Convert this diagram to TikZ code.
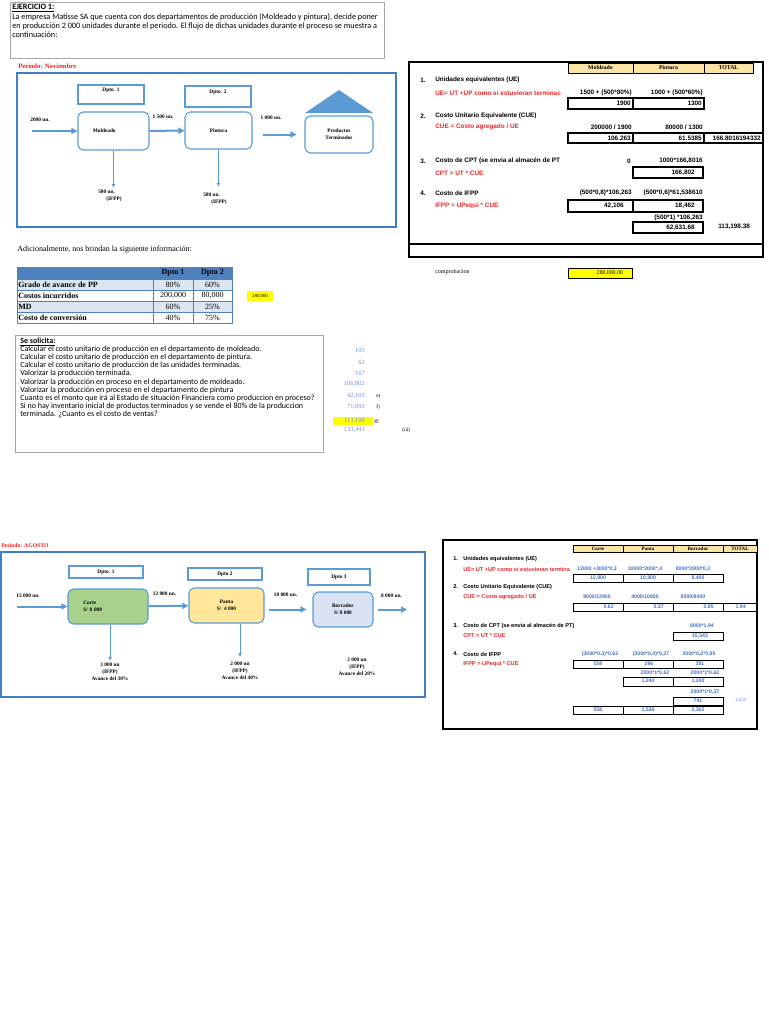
\documentclass[tikz,border=0pt]{standalone}
\usepackage{fontspec}
\usepackage{tikz}
\usetikzlibrary{arrows.meta, positioning, calc}
\setmainfont{Liberation Serif}
\newfontfamily\calibfont{Carlito}
\newfontfamily\arialfont{Liberation Sans}
\newcommand{\setfs}[2]{\fontsize{#1}{#2}\selectfont}
\definecolor{frameblue}{HTML}{3F7EC6}
\definecolor{boxblue}{HTML}{5B9BD5}
\definecolor{roofblue}{HTML}{5B9BD5}
\definecolor{notegray}{HTML}{A6A6A6}
\definecolor{formred}{HTML}{E8262B}
\definecolor{perred}{HTML}{FF1A1A}
\definecolor{hdrtan}{HTML}{FBE3A6}
\definecolor{tblhead}{HTML}{4F81BD}
\definecolor{tblband}{HTML}{DCE6F1}
\definecolor{valblue}{HTML}{4472C4}
\definecolor{softblue}{HTML}{6F8FD8}
\definecolor{hlyellow}{HTML}{FFFF00}
\definecolor{cortegreen}{HTML}{A9D18E}
\definecolor{pantayellow}{HTML}{FFE699}
\definecolor{borradorblue}{HTML}{DAE3F3}

\begin{document}
\begin{tikzpicture}[
    x=0.75pt, y=-0.75pt,
    sz/.style 2 args={minimum width=#1*0.75pt, minimum height=#2*0.75pt},
    note_box/.style={draw=notegray, line width=0.6pt},
    frame_box/.style={draw=frameblue, line width=1.4pt},
    intro_text/.style={inner sep=0pt, anchor=west, font=\calibfont\setfs{6.15}{7}},
    ask_text/.style={inner sep=0pt, anchor=west, font=\calibfont\setfs{6}{6.5}},
    serif_text/.style={inner sep=0pt, anchor=west, font=\setfs{6}{7}},
    dept_node/.style={rectangle, draw=boxblue, line width=0.8pt, inner sep=0pt, font=\bfseries\setfs{4}{5}},
    proc_node/.style={rectangle, rounded corners=4pt, draw=boxblue, line width=0.8pt, inner sep=0pt, align=center, font=\bfseries\setfs{4}{5.2}},
    flow/.style={-{Triangle[length=4.5pt, width=4.5pt]}, draw=boxblue, line width=1.5pt},
    drop/.style={-{Triangle[length=2.5pt, width=2.5pt]}, draw=boxblue, line width=0.6pt},
    flow_label/.style={inner sep=0pt, font=\bfseries\setfs{4}{5.2}, align=center},
    period_label/.style={inner sep=0pt, anchor=west, text=perred, font=\bfseries\setfs{5}{6}},
    calc_text/.style={inner sep=0pt, anchor=west, font=\arialfont\bfseries\setfs{4.8}{5.5}},
    calc_red/.style={calc_text, text=formred},
    calc_num/.style={calc_text, anchor=east},
    calc2_text/.style={inner sep=0pt, anchor=west, font=\arialfont\bfseries\setfs{4.2}{5}},
    calc2_red/.style={calc2_text, text=formred},
    calc2_blue/.style={inner sep=0pt, text=valblue, font=\arialfont\bfseries\setfs{3.9}{4.5}},
    head_cell/.style={draw=black, line width=0.6pt, fill=hdrtan},
    head_text/.style={inner sep=0pt, font=\bfseries\setfs{4.3}{5}},
    value_box/.style={draw=black, line width=1.1pt},
    thin_box/.style={draw=black, line width=0.7pt},
    tbl_grid/.style={draw=tblhead, line width=0.6pt},
    tbl_label/.style={inner sep=0pt, anchor=west, font=\bfseries\setfs{6}{7}},
    tbl_value/.style={inner sep=0pt, font=\setfs{6}{7}},
    answer/.style={inner sep=0pt, anchor=east, text=softblue, font=\setfs{4.8}{5.5}},
    answer_tag/.style={inner sep=0pt, anchor=west, font=\setfs{4}{5}}
]

\fill[white] (0,0) rectangle (768,1024);
\useasboundingbox (0,0) rectangle (768,1024);

% Enunciado
\draw[note_box] (10,2) rectangle (384,58);
\node[intro_text, font=\calibfont\bfseries\setfs{6.15}{7}] (ej_title) at (12,8.5) {\underline{EJERCICIO 1:}};
\node[intro_text] (ej_l1) at (12,17.5) {La empresa Matisse SA que cuenta con dos departamentos de producción (Moldeado y pintura), decide poner};
\node[intro_text] (ej_l2) at (12,26) {en producción 2 000 unidades durante el periodo. El flujo de dichas unidades durante el proceso se muestra a};
\node[intro_text] (ej_l3) at (12,34.5) {continuación:};

% Flujo noviembre
\node[period_label] (per_nov) at (18,66) {Periodo: Noviembre};
\draw[frame_box] (17,73) rectangle (396,227);
\node[dept_node, sz={66}{19}, label={[flow_label, anchor=north, yshift=-2.5pt]north:Dpto. 1}] (dpto1) at (111,94.5) {};
\node[dept_node, sz={66}{21}, label={[flow_label, anchor=north, yshift=-3pt]north:Dpto. 2}] (dpto2) at (218,96.5) {};
\node[proc_node, sz={71}{38}, text width=31pt, align=left] (moldeado) at (113.5,131) {Moldeado};
\node[proc_node, sz={67}{37}] (pintura) at (218.5,130.5) {Pintura};
\fill[roofblue] (305,113) -- (339,90) -- (373,113) -- cycle;
\node[proc_node, sz={68}{37}] (ptermin) at (339,134.5) {Productos\\Terminados};

\coordinate (in_nov) at (32,131);
\draw[flow] (in_nov) -- (moldeado);
\draw[flow] (moldeado) -- (pintura);
\draw[flow, shorten <=7.5pt, shorten >=6pt] (pintura.east |- ptermin.west) -- (ptermin.west);

\node[flow_label] (u2000) at (40,120) {2000 un.};
\node[flow_label] (u1500) at (163,117) {1 500 un.};
\node[flow_label] (u1000) at (271,118) {1 000 un.};
\node[flow_label, anchor=north west, align=left] (ifpp_m) at (98,190) {500 un.\\\hspace*{6pt}(IFPP)};
\node[flow_label, anchor=north west, align=left] (ifpp_p) at (203,193) {500 un.\\\hspace*{6pt}(IFPP)};
\draw[drop, shorten >=2pt] (moldeado.south) -- (moldeado.south |- ifpp_m.north);
\draw[drop, shorten >=5pt] (pintura.south) -- (pintura.south |- ifpp_p.north);

% Cuadro de calculo noviembre
\draw[line width=0.9pt] (409,62) rectangle (763,257);
\draw[line width=0.9pt] (409,244) -- (763,244);
\foreach \xa/\xb/\nm/\lbl in {568/633/hm/Moldeado, 633/704/hp/Pintura, 704/753/ht/TOTAL} {
  \draw[head_cell] (\xa,63) rectangle (\xb,73);
  \node[head_text] (\nm) at ({(\xa+\xb)/2},68) {\lbl};
}

\node[calc_text] (n1) at (420,80) {1.};
\node[calc_text] (ue_t) at (435,80) {Unidades equivalentes (UE)};
\node[calc_red] (ue_f) at (435,93) {UE= UT +UP como si estuvieran terminac};
\node[calc_num] (ue_m) at (632,93) {1500 + (500*80\%)};
\node[calc_num] (ue_p) at (703,93) {1000 + (500*60\%)};
\draw[value_box] (568,98) rectangle (704,109) (633,98) -- (633,109);
\node[calc_num] (ue_mv) at (631,103.5) {1900};
\node[calc_num] (ue_pv) at (702,103.5) {1300};

\node[calc_text] (n2) at (420,116) {2.};
\node[calc_text] (cue_t) at (435,116) {Costo Unitario Equivalente (CUE)};
\node[calc_red] (cue_f) at (435,127) {CUE = Costo agregado / UE};
\node[calc_num] (cue_m) at (632,127) {200000 / 1900};
\node[calc_num] (cue_p) at (703,127) {80000 / 1300};
\draw[value_box] (568,133) rectangle (763,143) (633,133) -- (633,143) (704,133) -- (704,143);
\node[calc_num] (cue_mv) at (631,138) {106.263};
\node[calc_num] (cue_pv) at (702,138) {61.5385};
\node[calc_num] (cue_tv) at (761,138) {166.8016194332};

\node[calc_text] (n3) at (420,161) {3.};
\node[calc_text] (cpt_t) at (435,161) {Costo de CPT (se envia al almacén de PT};
\node[calc_num] (cpt_m) at (631,161) {0};
\node[calc_num] (cpt_p) at (703,161) {1000*166,8016};
\node[calc_red] (cpt_f) at (435,173) {CPT = UT * CUE};
\draw[value_box] (633,167) rectangle (703,178);
\node[calc_num] (cpt_pv) at (695,172.5) {166,802};

\node[calc_text] (n4) at (420,193) {4.};
\node[calc_text] (ifpp_t) at (435,193) {Costo de IFPP};
\node[calc_num] (ifpp_mc) at (632,193) {(500*0,8)*106,263};
\node[calc_num] (ifpp_pc) at (703,193) {(500*0,6)*61,538610};
\node[calc_red] (ifpp_f) at (435,206) {IFPP = UPequi * CUE};
\draw[value_box] (568,200) rectangle (703,212) (633,200) -- (633,212);
\node[calc_num] (ifpp_mv) at (624,206) {42,106};
\node[calc_num] (ifpp_pv) at (695,206) {18,462};
\node[calc_num] (ifpp_xc) at (703,218) {(500*1) *106,263};
\draw[value_box] (633,222) rectangle (703,233);
\node[calc_num] (ifpp_xv) at (695,227.5) {62,631.68};
\node[calc_text] (ifpp_tot) at (718,227) {113,198.38};

\node[serif_text, font=\setfs{4.5}{5}] (comprob) at (435,272) {comprobacion};
\draw[thin_box, fill=hlyellow] (568,268) rectangle (632,278);
\node[answer, text=black, font=\setfs{4.3}{5}] (comprob_v) at (623,273) {280,000.00};

% Datos adicionales
\node[serif_text] (adic) at (17,250) {Adicionalmente, nos brindan la siguiente información:};
\fill[tblhead] (17,267) rectangle (232,279);
\node[tbl_label, anchor=center] (d1) at (173,273) {Dpto 1};
\node[tbl_label, anchor=center] (d2) at (212.5,273) {Dpto 2};
\foreach \ya/\fillc/\nm/\lbl/\va/\vb in {279/tblband/ga/Grado de avance de PP/80\%/60\%, 290/white/ci/Costos incurridos/{200,000}/{80,000}, 301/tblband/md/MD/60\%/25\%, 312/white/cc/Costo de conversión/40\%/75\%} {
  \fill[\fillc] (17,\ya) rectangle (232,\ya+11);
  \draw[tbl_grid] (17,\ya) rectangle (153,\ya+11) (153,\ya) rectangle (193,\ya+11) (193,\ya) rectangle (232,\ya+11);
  \node[tbl_label] (\nm) at (18,\ya+5.5) {\lbl};
  \node[tbl_value] (\nm_1) at (173,\ya+5.5) {\va};
  \node[tbl_value] (\nm_2) at (212.5,\ya+5.5) {\vb};
}
\draw[tbl_grid] (17,267) rectangle (232,323);
\fill[hlyellow] (247,291) rectangle (273,301);
\node[tbl_value, font=\setfs{3.6}{4}] (ci_sum) at (260,296) {280,000};

% Se solicita
\draw[note_box] (15,335) rectangle (323,452);
\node[ask_text, font=\calibfont\bfseries\setfs{6}{6.5}] (ask_title) at (20,342) {\underline{Se solicita:}};
\foreach \t [count=\i] in {
  Calcular el costo unitario de producción en el departamento de moldeado.,
  Calcular el costo unitario de producción en el departamento de pintura.,
  Calcular el costo unitario de producción de las unidades terminadas.,
  Valorizar la producción terminada.,
  Valorizar la producción en proceso en el departamento de moldeado.,
  Valorizar la producción en proceso en el departamento de pintura,
  Cuanto es el monto que irá al Estado de situación Financiera como produccion en proceso?,
  Si no hay inventario inicial de productos terminados y se vende el 80\% de la produccion,
  terminada. ¿Cuanto es el costo de ventas?} {
  \node[ask_text] (ask\i) at (20,341+8.2*\i) {\t};
}

\fill[hlyellow] (333,417) rectangle (373,425);
\foreach \y/\v/\nm in {350/105/ra, 362/62/rb, 373/167/rc, 384/{166,802}/rd, 396/{42,105}/re, 407/{71,093}/rf, 421/{113,198}/rg, 430/{133,441}/rh} {
  \node[answer] (\nm) at (365,\y) {\v};
}
\node[answer_tag] (tag_e) at (376,396) {e)};
\node[answer_tag] (tag_f) at (376,407) {f)};
\node[answer_tag] (tag_g) at (374,421) {g)};
\node[answer_tag] (tag_h) at (402,430) {(iii)};

% Flujo agosto
\node[period_label, font=\bfseries\setfs{4.3}{5}] (per_ago) at (1,546) {Periodo: AGOSTO};
\draw[frame_box] (1,552) rectangle (425,697);
\node[dept_node, sz={74}{12}] (dptoA) at (106,572) {Dpto. 1};
\node[dept_node, sz={74}{12}] (dptoB) at (225,574) {Dpto 2};
\node[dept_node, sz={62}{16}] (dptoC) at (339,577) {Dpto 3};
\node[proc_node, fill=cortegreen, sz={80}{35}, text width=37pt, align=left] (corte) at (108,606.5) {Corte\\S/ 8 000};
\node[proc_node, fill=pantayellow, sz={75}{35}] (panta) at (226.5,605.5) {Panta\\S/~ 4 000};
\node[proc_node, fill=borradorblue, sz={60}{35}] (borrador) at (343,609.5) {Borrador\\S/ 8 000};

\coordinate (in_ago) at (17,606.5);
\coordinate (out_ago) at (407,609.5);
\draw[flow] (in_ago) -- (corte);
\draw[flow] (corte) -- (panta);
\draw[flow, shorten <=3pt, shorten >=4.5pt] (panta.east |- borrador.west) -- (borrador.west);
\draw[flow, shorten <=3pt] (borrador.east) -- (out_ago);

\node[flow_label] (u15000) at (28,596) {15 000 un.};
\node[flow_label] (u12000) at (164.5,594) {12 000 un.};
\node[flow_label] (u10000) at (285.5,595) {10 000 un.};
\node[flow_label] (u8000) at (391.5,596) {8 000 un.};
\node[flow_label, anchor=north] (ifpp_c) at (110,663) {3 000 un\\(IFPP)\\Avance del 30\%};
\node[flow_label, anchor=north] (ifpp_pa) at (240,662) {2 000 un\\(IFPP)\\Avance del 40\%};
\node[flow_label, anchor=north] (ifpp_b) at (357,658) {2 000 un\\(IFPP)\\Avance del 20\%};
\draw[drop, shorten >=2pt] (ifpp_c.north |- corte.south) -- (ifpp_c.north);
\draw[drop, shorten >=4pt] (ifpp_pa.north |- panta.south) -- (ifpp_pa.north);

% Cuadro de calculo agosto
\draw[line width=0.9pt] (443,540) rectangle (757,729);
\foreach \xa/\xb/\nm/\lbl in {573/623/hc/Corte, 623/673/hpa/Panta, 673/723/hb/Borrador, 723/757/ht2/TOTAL} {
  \draw[head_cell] (\xa,545) rectangle (\xb,552);
  \node[head_text, font=\bfseries\setfs{3.8}{4.5}] (\nm) at ({(\xa+\xb)/2},548.5) {\lbl};
}

\node[calc2_text] (m1) at (453,559) {1.};
\node[calc2_text] (ue2_t) at (463,559) {Unidades equivalentes (UE)};
\node[calc2_red] (ue2_f) at (463,569) {UE= UT +UP como si estuvieran termina};
\node[calc2_blue] (ue2_c) at (597,569) {12000 +3000*0,3};
\node[calc2_blue] (ue2_p) at (645,569) {10000*2000*,4};
\node[calc2_blue] (ue2_b) at (693,569) {8000*2000*0,2};
\draw[thin_box] (573,574) rectangle (723,582) (623,574) -- (623,582) (673,574) -- (673,582);
\node[calc2_blue] (ue2_cv) at (598,578) {12,900};
\node[calc2_blue] (ue2_pv) at (648,578) {10,800};
\node[calc2_blue] (ue2_bv) at (698,578) {8,400};

\node[calc2_text] (m2) at (453,587) {2.};
\node[calc2_text] (cue2_t) at (463,587) {Costo Unitario Equivalente (CUE)};
\node[calc2_red] (cue2_f) at (463,597) {CUE = Costo agregado / UE};
\node[calc2_blue] (cue2_c) at (597,597) {8000/12900};
\node[calc2_blue] (cue2_p) at (645,597) {4000/10800};
\node[calc2_blue] (cue2_b) at (693,597) {8000/8400};
\draw[thin_box] (573,603) rectangle (757,611) (623,603) -- (623,611) (673,603) -- (673,611) (723,603) -- (723,611);
\node[calc2_blue, anchor=east] (cue2_cv) at (614,607) {0.62};
\node[calc2_blue, anchor=east] (cue2_pv) at (664,607) {0.37};
\node[calc2_blue, anchor=east] (cue2_bv) at (714,607) {0.95};
\node[calc2_blue, anchor=east] (cue2_tv) at (746,607) {1.94};

\node[calc2_text] (m3) at (453,626) {3.};
\node[calc2_text] (cpt2_t) at (463,626) {Costo de CPT (se envia al almacén de PT)};
\node[calc2_blue] (cpt2_c) at (702,626) {8000*1,94};
\node[calc2_red] (cpt2_f) at (463,636) {CPT = UT * CUE};
\draw[thin_box] (673,632) rectangle (723,640);
\node[calc2_blue] (cpt2_v) at (700,636) {15,543};

\node[calc2_text] (m4) at (453,654) {4.};
\node[calc2_text] (ifpp2_t) at (463,654) {Costo de IFPP};
\node[calc2_blue] (ifpp2_c) at (600,654) {(3000*0.3)*0.62};
\node[calc2_blue] (ifpp2_p) at (651,654) {(2000*0,4)*0,37};
\node[calc2_blue] (ifpp2_b) at (699,654) {2000*0,2*0,95};
\node[calc2_red] (ifpp2_f) at (463,664) {IFPP = UPequi * CUE};
\draw[thin_box] (573,660) rectangle (723,668) (623,660) -- (623,668) (673,660) -- (673,668);
\node[calc2_blue] (ifpp2_cv) at (598,664) {558};
\node[calc2_blue] (ifpp2_pv) at (649,664) {296};
\node[calc2_blue] (ifpp2_bv) at (700,664) {381};
\node[calc2_blue] (mp2_pc) at (655,673) {2000*1*0,62};
\node[calc2_blue] (mp2_bc) at (705,673) {2000*1*0.62};
\draw[thin_box] (623,677) rectangle (723,686) (673,677) -- (673,686);
\node[calc2_blue] (mp2_pv) at (648,681.5) {1,240};
\node[calc2_blue] (mp2_bv) at (698,681.5) {1,240};
\node[calc2_blue] (mp3_bc) at (705,692) {2000*1*0,37};
\draw[thin_box] (673,697) rectangle (723,705);
\node[calc2_blue] (mp3_bv) at (698,701) {741};
\node[answer, anchor=west, font=\setfs{3.8}{4.5}] (ifpp2_sum) at (735,700) {4,456};
\draw[thin_box] (573,706) rectangle (723,714) (623,706) -- (623,714) (673,706) -- (673,714);
\node[calc2_blue] (tot2_cv) at (598,710) {558};
\node[calc2_blue] (tot2_pv) at (648,710) {1,536};
\node[calc2_blue] (tot2_bv) at (698,710) {2,362};

\end{tikzpicture}
\end{document}
